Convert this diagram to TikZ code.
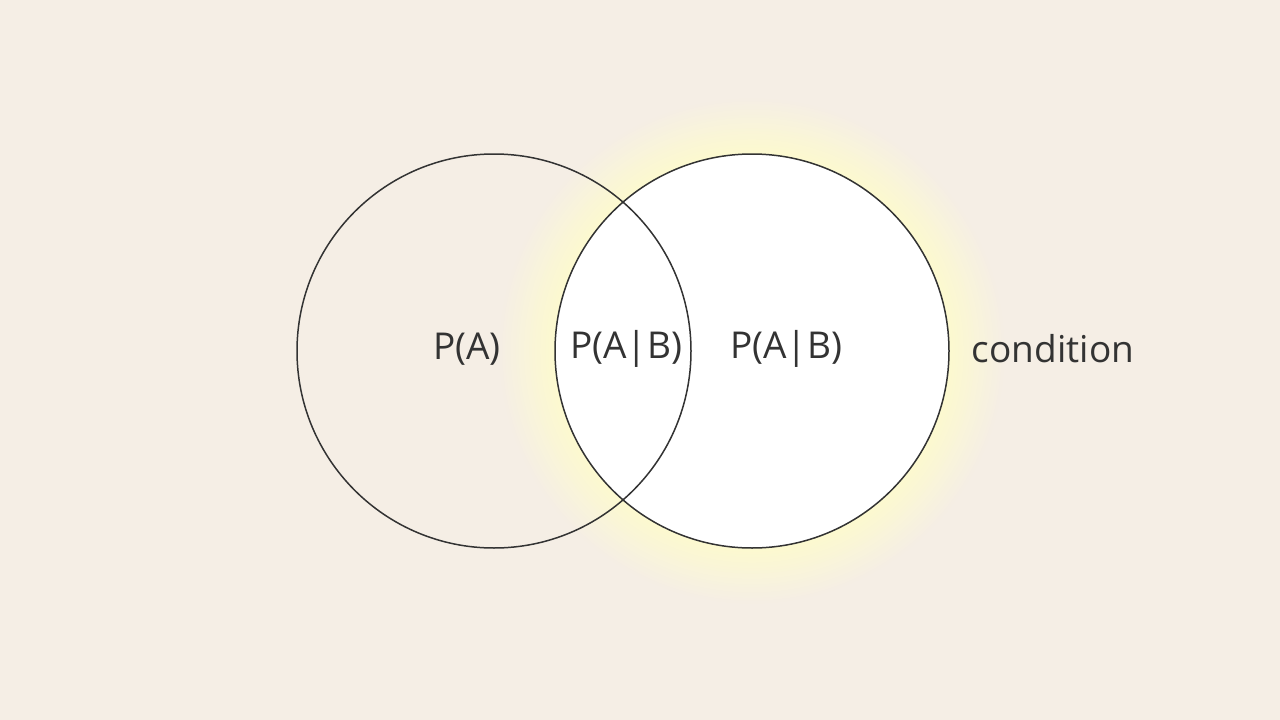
\documentclass[tikz,border=0pt]{standalone}
\usepackage{fontspec}
\setmainfont{Open Sans}
\definecolor{bg}{HTML}{F5EEE5}
\definecolor{glow}{HTML}{FCF9D0}
\definecolor{ink}{HTML}{333333}
\begin{document}
\begin{tikzpicture}[x=1pt,y=-1pt,
  lbl/.style={font=\fontsize{37}{44}\selectfont,text=ink},
  ring/.style={draw=ink,line width=1.5pt}]
\fill[bg] (0,0) rectangle (1280,720);
\useasboundingbox (0,0) rectangle (1280,720);
\foreach \i in {0,...,20}{
  \pgfmathsetmacro\rr{255-2.7*\i}
  \pgfmathsetmacro\pp{5*\i}
  \fill[glow!\pp!bg] (752,351) circle (\rr);
}
\fill[white] (752,351) circle (197);
\node[ring,circle,minimum size=394pt,inner sep=0pt] (A) at (494,351) {};
\node[ring,circle,minimum size=394pt,inner sep=0pt] (B) at (752,351) {};
\node[lbl] (pa) at (467,349) {P(A)};
\node[lbl] (pab1) at (626,349) {P(A|B)};
\node[lbl] (pab2) at (786,349) {P(A|B)};
\node[lbl] (cond) at (1053,349) {condition};
\end{tikzpicture}
\end{document}
